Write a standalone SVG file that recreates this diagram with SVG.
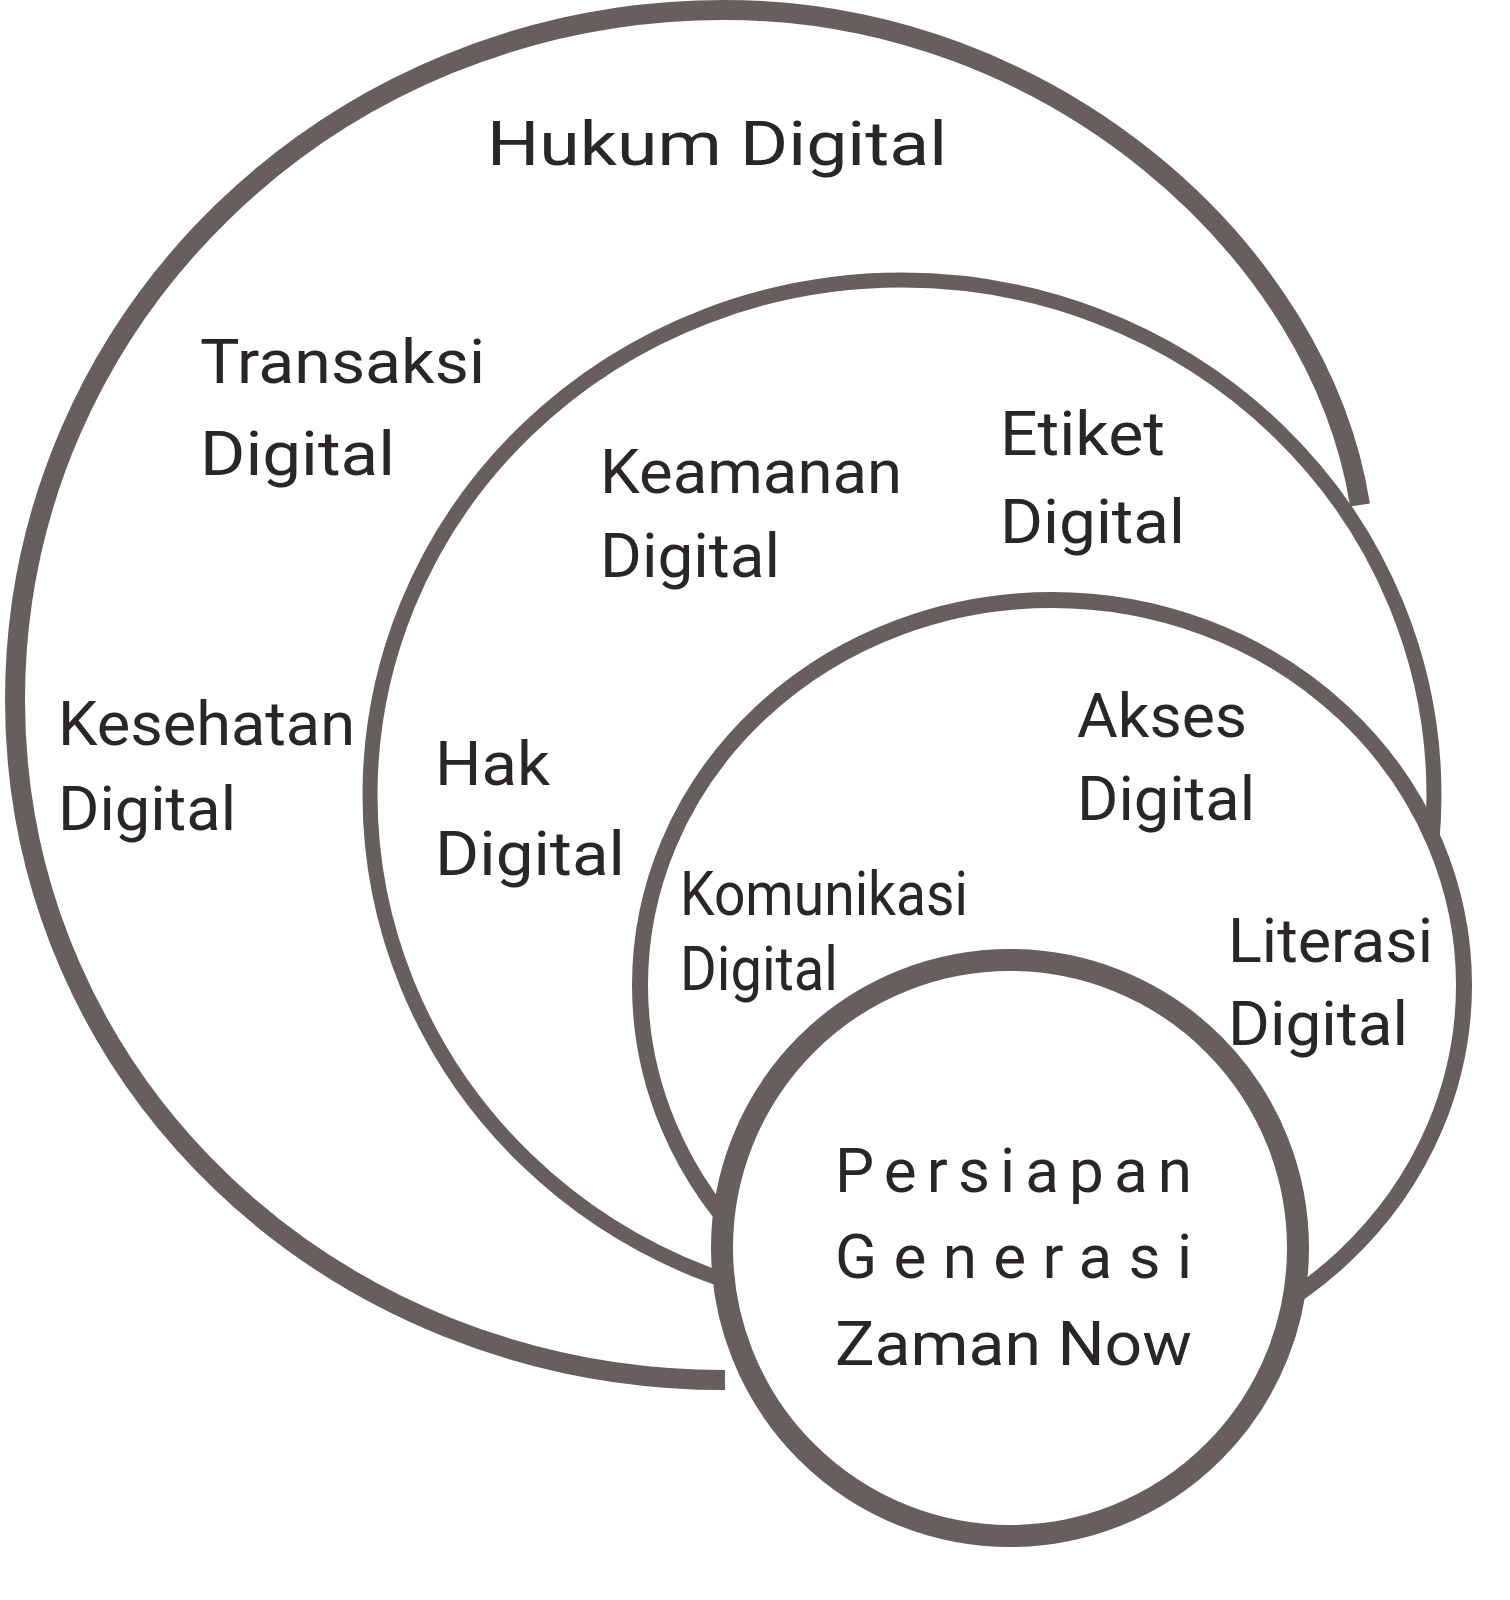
<svg xmlns="http://www.w3.org/2000/svg" width="1510" height="1600" viewBox="0 0 1510 1600">
<style>
.c{fill:#fff;stroke:#665f5d}
text{font-family:Roboto,"Liberation Sans",sans-serif;fill:#2a2626;font-size:62px}
</style>
<rect width="1510" height="1600" fill="#fff"/>
<g id="outer"><path class="c" stroke-width="20" d="M 1360 505 C 1320 250, 1050 10, 725 10 C 330 10, 15 320, 15 700 C 15 1080, 330 1380, 725 1380"/></g>
<g id="c2"><ellipse class="c" stroke-width="15" cx="902" cy="795" rx="532" ry="515"/></g>
<g id="c3"><ellipse class="c" stroke-width="16" cx="1052" cy="985" rx="412" ry="385"/></g>
<g id="c4"><circle class="c" stroke-width="22" cx="1010" cy="1248" r="288"/></g>
<g id="labels">
<text x="487" y="165" font-size="72" textLength="460" lengthAdjust="spacingAndGlyphs">Hukum Digital</text>
<text x="200" y="383" textLength="285" lengthAdjust="spacingAndGlyphs">Transaksi</text>
<text x="200" y="475" textLength="195" lengthAdjust="spacingAndGlyphs">Digital</text>
<text x="600" y="493" textLength="302" lengthAdjust="spacingAndGlyphs">Keamanan</text>
<text x="600" y="577" textLength="180" lengthAdjust="spacingAndGlyphs">Digital</text>
<text x="1000" y="455" textLength="165" lengthAdjust="spacingAndGlyphs">Etiket</text>
<text x="1000" y="543" textLength="185" lengthAdjust="spacingAndGlyphs">Digital</text>
<text x="58" y="745" textLength="297" lengthAdjust="spacingAndGlyphs">Kesehatan</text>
<text x="58" y="830" textLength="178" lengthAdjust="spacingAndGlyphs">Digital</text>
<text x="435" y="785" textLength="115" lengthAdjust="spacingAndGlyphs">Hak</text>
<text x="435" y="875" textLength="190" lengthAdjust="spacingAndGlyphs">Digital</text>
<text x="1077" y="737" textLength="170" lengthAdjust="spacingAndGlyphs">Akses</text>
<text x="1077" y="820" textLength="178" lengthAdjust="spacingAndGlyphs">Digital</text>
<text x="680" y="915" font-size="54" textLength="288" lengthAdjust="spacingAndGlyphs">Komunikasi</text>
<text x="680" y="990" font-size="54" textLength="158" lengthAdjust="spacingAndGlyphs">Digital</text>
<text x="1228" y="962" textLength="205" lengthAdjust="spacingAndGlyphs">Literasi</text>
<text x="1228" y="1045" textLength="180" lengthAdjust="spacingAndGlyphs">Digital</text>
<text x="835" y="1192" textLength="357" lengthAdjust="spacing">Persiapan</text>
<text x="835" y="1278" textLength="357" lengthAdjust="spacing">Generasi</text>
<text x="835" y="1365" textLength="357" lengthAdjust="spacingAndGlyphs">Zaman Now</text>
</g>
</svg>
